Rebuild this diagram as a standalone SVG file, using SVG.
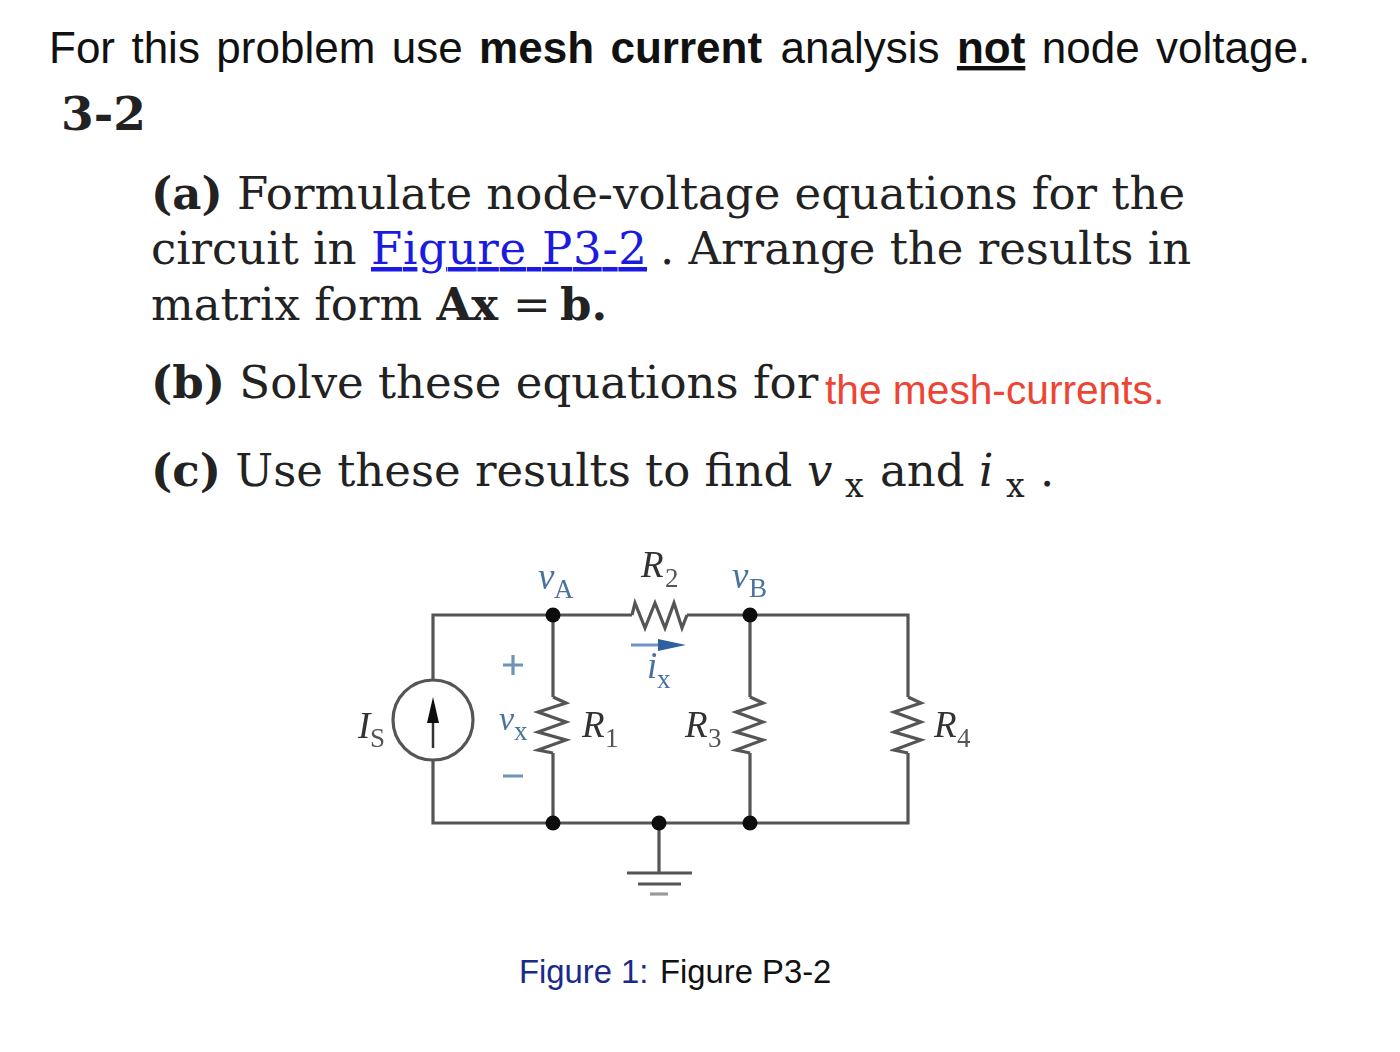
<svg xmlns="http://www.w3.org/2000/svg" width="1400" height="1052" viewBox="0 0 1400 1052">
<defs><filter id="soft" x="-5%" y="-5%" width="110%" height="110%"><feGaussianBlur stdDeviation="0.6"/></filter></defs>
<style>
.h{font-family:"Liberation Sans",Arial,sans-serif;font-size:44px;fill:#111}
.s{font-family:"DejaVu Serif",serif;font-size:45px;fill:#222}
.b{font-weight:bold}
.c{font-family:"Liberation Serif",serif;font-size:37px;fill:#333;font-style:italic}
.sub{font-family:"Liberation Serif",serif;font-size:27px;fill:#555;font-style:normal}
.bl{fill:#4a72a0}
.w{fill:none;stroke:#555;stroke-width:3.2}
.d{fill:#111}
.f{font-family:"Liberation Sans",Arial,sans-serif;font-size:32.8px}
.x{font-size:33px}
</style>
<rect width="1400" height="1052" fill="#fff"/>
<g id="text">
<text class="h" x="49" y="63" word-spacing="4.2">For this problem use <tspan class="b">mesh current</tspan> <tspan dx="2">analysis</tspan> <tspan class="b" text-decoration="underline" dx="1">not</tspan> node voltage.</text>
<text class="s b" x="61" y="130" style="font-size:47px">3-2</text>
<text class="s" x="151" y="209"><tspan class="b">(a)</tspan> Formulate node-voltage equations for the</text>
<text class="s" x="151" y="264">circuit in</text>
<text class="s" x="371" y="264" style="fill:#1a1ae0" text-decoration="underline" textLength="276">Figure P3-2</text>
<text class="s" x="660" y="264">. Arrange the results in</text>
<text class="s" x="151" y="320">matrix form <tspan class="b">Ax</tspan></text>
<text class="s" x="513" y="320">=</text>
<text class="s b" x="560" y="320">b.</text>
<text class="s" x="151" y="398"><tspan class="b">(b)</tspan> Solve these equations for</text>
<text x="825" y="404" font-family="Liberation Sans,Arial,sans-serif" font-size="40.7" fill="#ee4433">the mesh-currents.</text>
<text class="s" x="151" y="486"><tspan class="b">(c)</tspan> Use these results to find</text>
<text class="s" x="807" y="486" font-style="italic">v</text>
<text class="s x" x="845" y="497">x</text>
<text class="s" x="880" y="486">and <tspan font-style="italic">i</tspan></text>
<text class="s x" x="1006" y="497">x</text>
<text class="s" x="1040" y="486">.</text>
<text class="f" x="519" y="983" fill="#1a2a8a">Figure 1:</text>
<text class="f" x="660" y="983" fill="#111">Figure P3-2</text>
</g>
<g id="connectors" filter="url(#soft)">
<path class="w" d="M433 680V615H632M687 615H908V697M908 753V823H433V760M553 615V697M553 753V823M750 615V697M750 753V823M659 823V873"/>
<path class="w" d="M627 873H692M638 884H681"/>
<path class="w" d="M650 894H668" style="stroke:#999"/>
</g>
<g id="Is" filter="url(#soft)">
<circle class="w" cx="433" cy="720" r="40"/>
<path d="M433 748V715" stroke="#333" stroke-width="2.5"/>
<path d="M433 697L427 723H439Z" class="d"/>
<text class="c" x="358" y="738">I</text>
<text class="sub" x="370" y="747">S</text>
</g>
<g id="R1" filter="url(#soft)">
<path class="w" d="M553 697L566 703L538 712L566 722L538 732L566 740L538 750L553 753"/>
<text class="c" x="582" y="737">R</text>
<text class="sub" x="605" y="747">1</text>
</g>
<g id="R2" filter="url(#soft)">
<path class="w" d="M632 615L635 603L645 628L655 603L665 628L674 603L682 628L687 615"/>
<text class="c" x="641" y="577">R</text>
<text class="sub" x="665" y="587">2</text>
</g>
<g id="R3" filter="url(#soft)">
<path class="w" d="M750 697L763 703L736 712L763 722L736 732L763 740L736 750L750 753"/>
<text class="c" x="685" y="737">R</text>
<text class="sub" x="708" y="747">3</text>
</g>
<g id="R4" filter="url(#soft)">
<path class="w" d="M908 697L921 703L894 712L921 722L894 732L921 740L894 750L908 753"/>
<text class="c" x="934" y="737">R</text>
<text class="sub" x="957" y="747">4</text>
</g>
<g id="VA" filter="url(#soft)">
<circle class="d" cx="553" cy="615" r="7.5"/>
<text class="c bl" x="538" y="589">v</text>
<text class="sub bl" x="554" y="598">A</text>
</g>
<g id="VB" filter="url(#soft)">
<circle class="d" cx="750" cy="615" r="7.5"/>
<text class="c bl" x="732" y="588">v</text>
<text class="sub bl" x="749" y="597">B</text>
</g>
<g id="N1" filter="url(#soft)"><circle class="d" cx="553" cy="823" r="7.5"/></g>
<g id="N2" filter="url(#soft)"><circle class="d" cx="659" cy="823" r="7.5"/></g>
<g id="N3" filter="url(#soft)"><circle class="d" cx="750" cy="823" r="7.5"/></g>
<g id="ix" filter="url(#soft)">
<path d="M631 645H665" stroke="#6d94c4" stroke-width="3"/>
<path d="M658 639L686 645L658 651Z" fill="#2f5f9f"/>
<text class="c bl" x="647" y="678">i</text>
<text class="sub bl" x="657" y="688">x</text>
</g>
<g id="vx" filter="url(#soft)">
<text class="c bl" x="499" y="730" style="font-size:34px">v</text>
<text class="sub bl" x="514" y="740">x</text>
<path d="M503 665H523M513 655V675M503 776H523" stroke="#6d94b4" stroke-width="3.2" fill="none"/>
</g>
</svg>
